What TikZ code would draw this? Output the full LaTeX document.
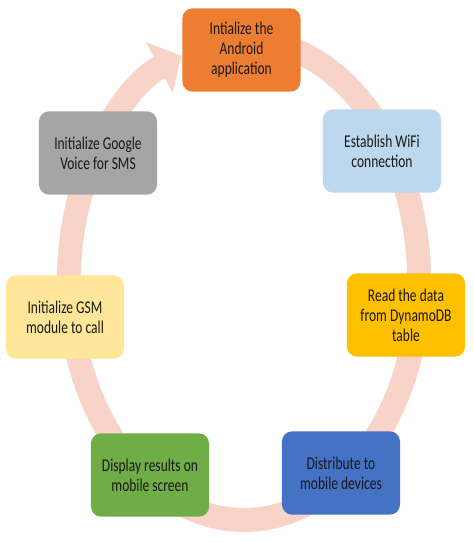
\documentclass[tikz,border=0pt]{standalone}
\usepackage{fontspec}
\setmainfont[FakeStretch=0.75]{Carlito}
\usetikzlibrary{arrows.meta}
\definecolor{ringpink}{RGB}{248,212,200}
\definecolor{boxorange}{RGB}{237,125,49}
\definecolor{boxsky}{RGB}{189,215,238}
\definecolor{boxgold}{RGB}{255,192,0}
\definecolor{boxblue}{RGB}{68,114,196}
\definecolor{boxgreen}{RGB}{112,173,71}
\definecolor{boxcream}{RGB}{255,230,153}
\definecolor{boxgray}{RGB}{165,165,165}
\definecolor{boxtext}{RGB}{25,25,25}

\tikzset{
  stepbox/.style={rounded corners=0.25cm, minimum width=2.95cm, minimum height=2.08cm,
    align=center, text=boxtext, font=\fontsize{12.8}{14.2}\selectfont, inner sep=0pt},
  ring/.style={ringpink, line width=0.6cm, -{Triangle[width=1.4cm, length=0.62cm]}}
}

\begin{document}
\begin{tikzpicture}[x=0.025cm, y=0.025cm]
\useasboundingbox (0,0) rectangle (474,542);
\draw[ring] (289.3,493.9) arc[start angle=75, end angle=-249, x radius=175, y radius=240];
\node[stepbox, fill=boxorange] (init) at (241.5,492) {Intialize the\\Android\\application};
\node[stepbox, fill=boxsky] (wifi) at (382,391) {Establish WiFi\\connection};
\node[stepbox, fill=boxgold] (read) at (406,227) {Read the data\\from DynamoDB\\table};
\node[stepbox, fill=boxblue] (dist) at (341,69) {Distribute to\\mobile devices};
\node[stepbox, fill=boxgreen] (show) at (150,67) {Display results on\\mobile screen};
\node[stepbox, fill=boxcream] (gsm) at (65,225) {Initialize GSM\\module to call};
\node[stepbox, fill=boxgray] (sms) at (98,389) {Initialize Google\\Voice for SMS};
\end{tikzpicture}
\end{document}
